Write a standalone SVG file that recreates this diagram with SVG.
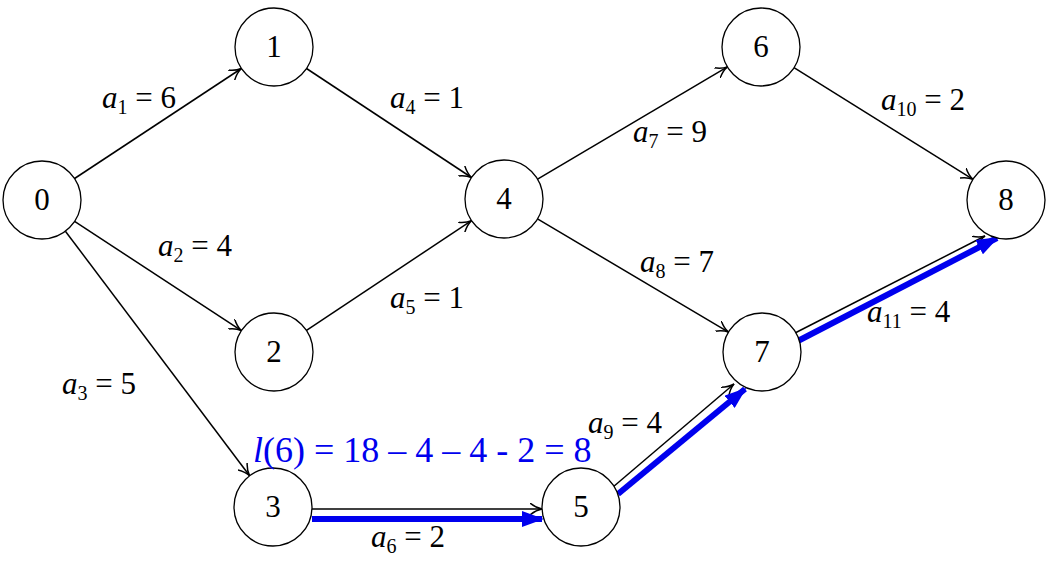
<svg xmlns="http://www.w3.org/2000/svg" width="1048" height="564" viewBox="0 0 1048 564">
<style>
.n circle{fill:#fff;stroke:#000;stroke-width:1.3}
.n text{font-family:"Liberation Serif","Times New Roman",serif;font-size:31px;text-anchor:middle}
.e line{stroke:#000;stroke-width:1.5}
.e line.b{stroke:#0000ee;stroke-width:6}
.l{font-family:"Liberation Serif","Times New Roman",serif;font-size:31px}
.l tspan.s{font-size:20px}
</style>
<defs>
<marker id="v" markerWidth="14" markerHeight="12" refX="12" refY="6" orient="auto" markerUnits="userSpaceOnUse"><path d="M0,0 Q6,5 12,6 Q6,7 0,12" fill="none" stroke="#000" stroke-width="1.5"/></marker>
<marker id="f" markerWidth="24" markerHeight="16" refX="20" refY="8" orient="auto" markerUnits="userSpaceOnUse"><path d="M0,0 L22,8 L0,16 Z" fill="#0000ee"/></marker>
</defs>
<g id="connectors" class="e">
<line x1="74.6" y1="178.5" x2="241.4" y2="68.5" marker-end="url(#v)"/>
<line x1="74.6" y1="221.4" x2="241.4" y2="330.6" marker-end="url(#v)"/>
<line x1="65.4" y1="231.2" x2="249.6" y2="475.8" marker-end="url(#v)"/>
<line x1="306.5" y1="68.5" x2="471.5" y2="177.5" marker-end="url(#v)"/>
<line x1="306.5" y1="330.4" x2="471.5" y2="220.6" marker-end="url(#v)"/>
<line x1="537.6" y1="179.1" x2="727.4" y2="66.9" marker-end="url(#v)"/>
<line x1="537.5" y1="218.9" x2="728.5" y2="332.1" marker-end="url(#v)"/>
<line x1="794" y1="67.7" x2="973" y2="179.3" marker-end="url(#v)"/>
<line x1="312" y1="509" x2="542" y2="509" marker-end="url(#v)"/>
<line x1="613" y1="487" x2="734" y2="384" marker-end="url(#v)"/>
<line x1="795" y1="333" x2="985" y2="236" marker-end="url(#v)"/>
<line class="b" x1="312" y1="519" x2="542" y2="519" marker-end="url(#f)"/>
<line class="b" x1="618" y1="494" x2="745" y2="389" marker-end="url(#f)"/>
<line class="b" x1="794" y1="343" x2="997" y2="238" marker-end="url(#f)"/>
</g>
<g id="n0" class="n"><circle cx="42" cy="200" r="39"/><text x="42" y="210">0</text></g>
<g id="n1" class="n"><circle cx="274" cy="47" r="39"/><text x="274" y="57">1</text></g>
<g id="n2" class="n"><circle cx="274" cy="352" r="39"/><text x="274" y="362">2</text></g>
<g id="n3" class="n"><circle cx="273" cy="507" r="39"/><text x="273" y="517">3</text></g>
<g id="n4" class="n"><circle cx="504" cy="199" r="39"/><text x="504" y="209">4</text></g>
<g id="n5" class="n"><circle cx="581" cy="507" r="39"/><text x="581" y="517">5</text></g>
<g id="n6" class="n"><circle cx="761" cy="47" r="39"/><text x="761" y="57">6</text></g>
<g id="n7" class="n"><circle cx="762" cy="352" r="39"/><text x="762" y="362">7</text></g>
<g id="n8" class="n"><circle cx="1006" cy="200" r="39"/><text x="1006" y="210">8</text></g>
<g id="labels" class="l">
<text x="102" y="108"><tspan font-style="italic">a</tspan><tspan class="s" dy="6">1</tspan><tspan dy="-6"> = 6</tspan></text>
<text x="390" y="108"><tspan font-style="italic">a</tspan><tspan class="s" dy="6">4</tspan><tspan dy="-6"> = 1</tspan></text>
<text x="633" y="142"><tspan font-style="italic">a</tspan><tspan class="s" dy="6">7</tspan><tspan dy="-6"> = 9</tspan></text>
<text x="881" y="110"><tspan font-style="italic">a</tspan><tspan class="s" dy="6">10</tspan><tspan dy="-6"> = 2</tspan></text>
<text x="158" y="256"><tspan font-style="italic">a</tspan><tspan class="s" dy="6">2</tspan><tspan dy="-6"> = 4</tspan></text>
<text x="390" y="308"><tspan font-style="italic">a</tspan><tspan class="s" dy="6">5</tspan><tspan dy="-6"> = 1</tspan></text>
<text x="640" y="272"><tspan font-style="italic">a</tspan><tspan class="s" dy="6">8</tspan><tspan dy="-6"> = 7</tspan></text>
<text x="867" y="322"><tspan font-style="italic">a</tspan><tspan class="s" dy="6">11</tspan><tspan dy="-6"> = 4</tspan></text>
<text x="62" y="394"><tspan font-style="italic">a</tspan><tspan class="s" dy="6">3</tspan><tspan dy="-6"> = 5</tspan></text>
<text x="588" y="433"><tspan font-style="italic">a</tspan><tspan class="s" dy="6">9</tspan><tspan dy="-6"> = 4</tspan></text>
<text x="371" y="547"><tspan font-style="italic">a</tspan><tspan class="s" dy="6">6</tspan><tspan dy="-6"> = 2</tspan></text>
<text x="253" y="462" fill="#0000ee" font-size="36"><tspan font-style="italic">l</tspan>(6) = 18 – 4 – 4 - 2 = 8</text>
</g>
</svg>
